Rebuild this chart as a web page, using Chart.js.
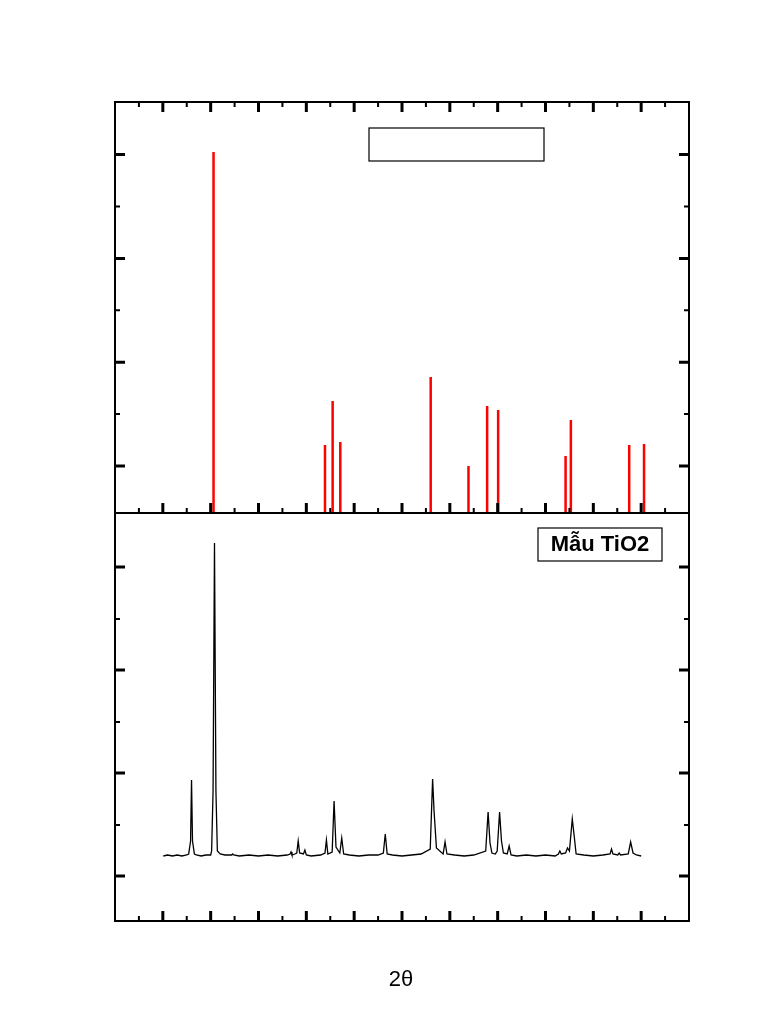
<!DOCTYPE html>
<html><head><meta charset="utf-8">
<script src="https://cdn.jsdelivr.net/npm/chart.js@4"></script>
<style>body{margin:0;background:#fff}canvas{position:absolute;left:0;top:0}
#lab{position:absolute;left:0;width:802px;top:966px;text-align:center;font:22px "Liberation Sans",Arial,sans-serif}
</style></head><body>
<canvas id="c1" width="768" height="1024"></canvas>
<canvas id="c2" width="768" height="1024"></canvas>
<div id="lab">2θ</div>
<script>
// reference sticks (top panel)
const stickPos = [20.6, 43.9, 45.5, 47.1, 66.0, 73.9, 77.8, 80.1, 94.2, 95.3, 107.5, 110.6];
const stickInt = [361, 68, 112, 71, 136, 47, 107, 103, 57, 93, 68, 69];
// measured pattern (bottom panel)
const patX = [10.1,11,12,13,14,15,15.4,15.8,16.0,16.2,16.6,17,18,19,20,20.2,20.5,20.8,21.1,21.4,22,23,24,24.4,24.6,24.8,26,28,30,32,34,36,36.6,36.8,37.0,37.6,38.0,38.3,38.6,39.4,39.7,40.0,41,43,43.9,44.2,44.5,45.4,45.8,46.2,47.0,47.4,47.8,49,51,53,55,56.1,56.5,56.9,58,60,62,64,65.9,66.4,66.7,67.2,68.6,69.0,69.4,71,73,75,77.5,78.0,78.4,78.8,79.5,79.9,80.4,80.8,81.2,82.0,82.4,82.8,84,86,88,90,92,92.7,93.0,93.3,94.2,94.6,95.0,95.6,96.0,96.4,98,100,102,103.5,103.8,104.1,105.1,105.4,105.7,107.3,107.8,108.3,109,110];
const patI = [65,66,65,66,65,66,67,80,141,80,67,66,65,66,66,70,130,378,130,70,67,66,66,66,67,66,65,66,65,66,65,66,67,69,66,67,68,80,68,67,71,66,65,66,68,81,67,69,120,74,68,83,67,66,65,66,66,68,87,67,66,65,66,67,72,142,110,73,67,79,67,66,65,66,70,109,78,68,67,70,109,80,68,67,75,66,65,66,65,66,65,67,70,67,68,73,70,102,85,67,66,65,66,67,72,67,66,68,66,67,79,68,66,65];
const xMin = 0, xMax = 120;
const xMajor = [10,20,30,40,50,60,70,80,90,100,110];
const xMinor = [5,15,25,35,45,55,65,75,85,95,105,115];
const topMajor = [47, 150.8, 254.6, 358.4];
const topMinor = [98.9, 202.7, 306.5];
const botMajor = [45, 148, 251, 354];
const botMinor = [96, 199, 302];

function frame(ticksTop, yMaj, yMin){
  return {id:'frame', afterDraw(ch){
    const c=ch.ctx,a=ch.chartArea,x=ch.scales.x,y=ch.scales.y;
    c.save();c.strokeStyle='#000';c.lineWidth=2;
    c.strokeRect(a.left,a.top,a.right-a.left,a.bottom-a.top);
    const tick=(vals,len)=>{vals.forEach(v=>{const px=x.getPixelForValue(v);
      c.beginPath();c.moveTo(px,a.bottom);c.lineTo(px,a.bottom-len);
      if(ticksTop){c.moveTo(px,a.top);c.lineTo(px,a.top+len);}c.stroke();});};
    c.lineWidth=3;tick(xMajor,10);c.lineWidth=2;tick(xMinor,5);
    const yt=(vals,len)=>{vals.forEach(v=>{const py=y.getPixelForValue(v);
      c.beginPath();c.moveTo(a.left,py);c.lineTo(a.left+len,py);
      c.moveTo(a.right,py);c.lineTo(a.right-len,py);c.stroke();});};
    c.lineWidth=3;yt(yMaj,10);c.lineWidth=2;yt(yMin,5);
    c.restore();
  }};
}
const base = {responsive:false,devicePixelRatio:1,animation:false,
  plugins:{legend:{display:false},tooltip:{enabled:false}}};

const sticks=[];
stickPos.forEach((p,i)=>{sticks.push({x:p,y:0},{x:p,y:stickInt[i]},{x:p,y:null});});
new Chart(document.getElementById('c1'),{type:'line',
  data:{datasets:[{data:sticks,borderColor:'#ff0000',borderWidth:2.5,pointRadius:0,spanGaps:false}]},
  options:{...base,layout:{padding:{left:115,right:79,top:102,bottom:511}},
    scales:{x:{type:'linear',min:xMin,max:xMax,display:false},y:{min:0,max:411,display:false}}},
  plugins:[frame(true,topMajor,topMinor),{id:'box',afterDraw(ch){const c=ch.ctx;c.save();
    c.strokeStyle='#000';c.lineWidth=1.2;c.strokeRect(369,128,175,33);c.restore();}}]});

new Chart(document.getElementById('c2'),{type:'line',
  data:{datasets:[{data:patX.map((v,i)=>({x:v,y:patI[i]})),borderColor:'#000',borderWidth:1.3,pointRadius:0,tension:0}]},
  options:{...base,layout:{padding:{left:115,right:79,top:513,bottom:103}},
    scales:{x:{type:'linear',min:xMin,max:xMax,display:false},y:{min:0,max:408,display:false}}},
  plugins:[frame(false,botMajor,botMinor),{id:'lbl',afterDraw(ch){const c=ch.ctx;c.save();
    c.fillStyle='#fff';c.fillRect(538,528,124,33);
    c.strokeStyle='#000';c.lineWidth=1.2;c.strokeRect(538,528,124,33);
    c.fillStyle='#000';c.font='bold 22px "Liberation Sans", Arial, sans-serif';
    c.textAlign='center';c.textBaseline='middle';c.fillText('Mẫu TiO2',600,545);c.restore();}}]});
</script></body></html>
